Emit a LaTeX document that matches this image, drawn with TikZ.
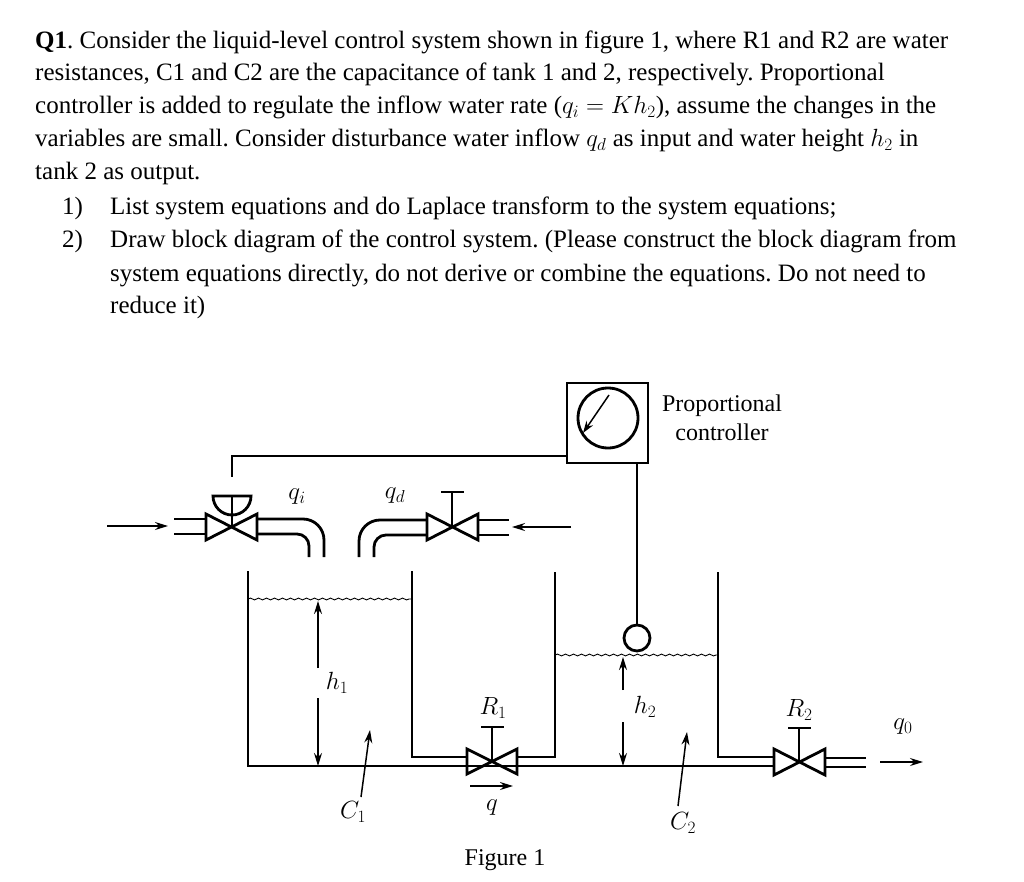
\documentclass[tikz,border=0pt]{standalone}
\usepackage{fontspec}
\setmainfont{Liberation Serif}
\usetikzlibrary{decorations.pathmorphing,arrows.meta}
\begin{document}
\frenchspacing
\begin{tikzpicture}[x=1pt,y=-1pt,
  pipe/.style={line width=2.8pt},
  arr/.style={line width=1.5pt,-{Stealth[length=13pt,width=8pt]}},
  txt/.style={anchor=base west,inner sep=0pt,font=\fontsize{25}{28}\selectfont},
  lab/.style={inner sep=1pt,font=\fontsize{25}{28}\selectfont},
  water/.style={line width=0.9pt,decorate,decoration={snake,amplitude=0.9pt,segment length=8pt}}]
\useasboundingbox (0,0) rectangle (1024,882);
% text
\node[txt] (l1) at (35,49) {\textbf{Q1}. Consider the liquid-level control system shown in figure 1, where R1 and R2 are water};
\node[txt] (l2) at (35,81) {resistances, C1 and C2 are the capacitance of tank 1 and 2, respectively. Proportional};
\node[txt] (l3) at (35,114) {controller is added to regulate the inflow water rate ($q_i = Kh_2$), assume the changes in the};
\node[txt] (l4) at (35,147) {variables are small. Consider disturbance water inflow $q_d$ as input and water height $h_2$ in};
\node[txt] (l5) at (35,180) {tank 2 as output.};
\node[txt] (n1) at (62,215) {1)};
\node[txt] (l6) at (110,215) {List system equations and do Laplace transform to the system equations;};
\node[txt] (n2) at (62,248) {2)};
\node[txt] (l7) at (110,248) {Draw block diagram of the control system. (Please construct the block diagram from};
\node[txt] (l8) at (110,281) {system equations directly, do not derive or combine the equations. Do not need to};
\node[txt] (l9) at (110,313) {reduce it)};
% controller
\node[draw,pipe,minimum width=81pt,minimum height=80pt,inner sep=0pt] (box) at (607.5,423) {};
\draw[pipe] (608,418) circle (30);
\draw[line width=1.5pt,-{Stealth[length=12pt,width=8pt]}] (609,395) -- (583,433);
\node[align=center,font=\fontsize{24}{29}\selectfont,inner sep=0pt] (pc) at (722,418) {Proportional\\controller};
% signal line to valve qi
\draw[pipe] (567,456) -- (232,456) -- (232,477);
\draw[pipe] (213,496) arc (180:0:19) -- cycle;
\draw[pipe] (232,496) -- (232,526);
% valve qi
\draw[pipe] (206,514) -- (206,540) -- (257,514) -- (257,540) -- cycle;
\draw[pipe] (174,519) -- (206,519) (174,534) -- (206,534);
\coordinate (ain) at (107,526);\coordinate (aine) at (168,526);
\draw[arr] (ain) -- (aine);
\draw[pipe] (257,519) -- (303,519) arc (-90:0:21) -- (324,557);
\draw[pipe] (257,534) -- (297,534) arc (-90:0:12) -- (309,557);
\node[lab] (qi) at (297,497) {$q_i$};
% valve qd
\draw[pipe] (427,514) -- (427,540) -- (478,514) -- (478,540) -- cycle;
\draw[pipe] (452,527) -- (452,492) (441,492) -- (464,492);
\draw[pipe] (478,520) -- (509,520) (478,535) -- (509,535);
\draw[pipe] (427,520) -- (380,520) arc (-90:-180:21) -- (359,557);
\draw[pipe] (427,535) -- (386,535) arc (-90:-180:12) -- (374,557);
\coordinate (qdin) at (571,527);\coordinate (qdine) at (512,527);
\draw[arr] (qdin) -- (qdine);
\node[lab] (qd) at (395,496) {$q_d$};
% tank 1
\draw[pipe] (248,571) -- (248,766) -- (774,766);
\draw[pipe] (412,571) -- (412,757) -- (467,757);
\draw[water] (248,599) -- (412,599);
% valve R1
\draw[pipe] (467,749) -- (467,774) -- (517,749) -- (517,774) -- cycle;
\draw[pipe] (492,761) -- (492,727) (481,727) -- (504,727);
\node[lab] (r1) at (493,708) {$R_1$};
\draw[pipe] (517,757) -- (555,757) -- (555,572);
\draw[arr] (470,786) -- (513,786);
\node[lab] (q) at (492,808) {$q$};
% tank 2
\draw[pipe] (718,572) -- (718,757) -- (774,757);
\draw[water] (555,655) -- (718,655);
\draw[pipe] (637,463) -- (637,625);
\draw[pipe] (637,638) circle (13);
% valve R2
\draw[pipe] (774,749) -- (774,775) -- (825,749) -- (825,775) -- cycle;
\draw[pipe] (799,762) -- (799,728) (788,728) -- (811,728);
\node[lab] (r2) at (799,710) {$R_2$};
\draw[pipe] (825,758) -- (866,758) (825,767) -- (866,767);
\draw[arr] (880,762) -- (923,762);
\node[lab] (q0) at (903,727) {$q_0$};
% h1, h2
\draw[arr] (318,668) -- (318,601);
\draw[arr] (318,698) -- (318,766);
\node[lab] (h1) at (337,683) {$h_1$};
\draw[arr] (623,690) -- (623,657);
\draw[arr] (623,722) -- (623,766);
\node[lab] (h2) at (645,707) {$h_2$};
% C1, C2
\node[lab] (c1) at (353,812) {$C_1$};
\draw[arr] (361,797) -- (370,730);
\node[lab] (c2) at (683,823) {$C_2$};
\draw[arr] (678,806) -- (687,732);
\node[font=\fontsize{24}{28}\selectfont] (fig) at (505,860) {Figure 1};
\end{tikzpicture}
\end{document}
